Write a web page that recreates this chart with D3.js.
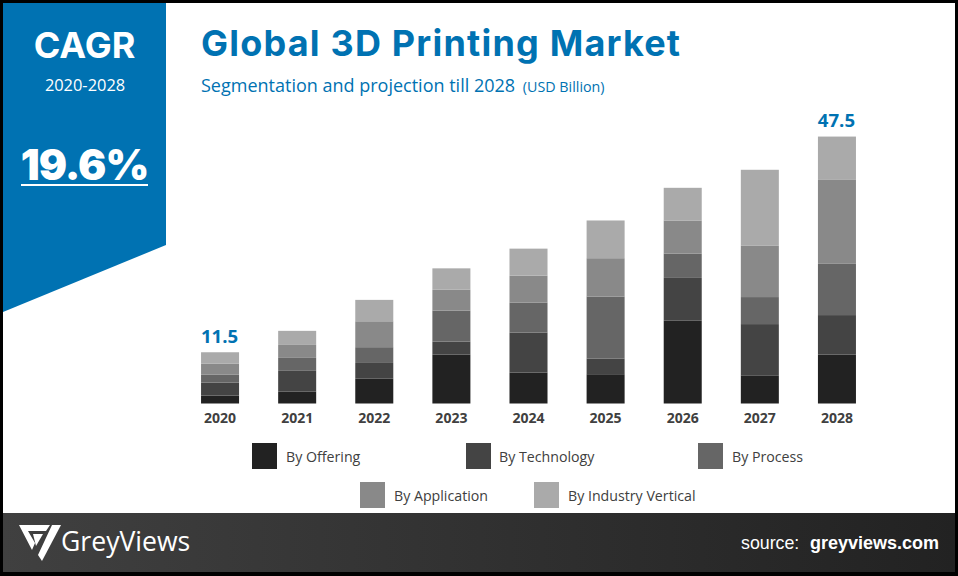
<!DOCTYPE html>
<html>
<head>
<meta charset="utf-8">
<script src="https://cdn.jsdelivr.net/npm/d3@7/dist/d3.min.js"></script>
<style>
html, body { margin: 0; padding: 0; background: #fff; }
svg { display: block; }
text { font-family: "Open Sans", sans-serif; }
</style>
</head>
<body>
<script>
const years = ["2020", "2021", "2022", "2023", "2024", "2025", "2026", "2027", "2028"];
const seriesNames = ["By Offering", "By Technology", "By Process", "By Application", "By Industry Vertical"];
const seriesColors = ["#222222", "#444444", "#666666", "#898989", "#aaaaaa"];

const byOffering = [1.4, 2.1, 4.4, 8.7, 5.5, 5.2, 14.7, 5.0, 8.7];
const byTechnology = [2.3, 3.7, 2.8, 2.3, 7.1, 2.8, 7.6, 9.1, 7.0];
const byProcess = [1.4, 2.3, 2.8, 5.5, 5.3, 11.0, 4.3, 4.8, 9.1];
const byApplication = [2.0, 2.3, 4.6, 3.7, 4.8, 6.8, 5.9, 9.1, 14.9];
const byIndustry = [2.0, 2.5, 3.8, 3.8, 4.8, 6.7, 5.8, 13.5, 7.7];

const totalLabels = { "2020": "11.5", "2028": "47.5" };

const WIDTH = 958;
const HEIGHT = 576;
const BLUE = "#0072b2";

var allSeries = [byOffering, byTechnology, byProcess, byApplication, byIndustry];
var records = years.map(function (year, i) {
    var record = { year: year };
    seriesNames.forEach(function (name, s) {
        record[name] = allSeries[s][i];
    });
    return record;
});

var svg = d3.select("body").append("svg")
    .attr("width", WIDTH)
    .attr("height", HEIGHT);

var defs = svg.append("defs");
var footerGrad = defs.append("linearGradient").attr("id", "footerGrad");
footerGrad.append("stop").attr("offset", "0%").attr("stop-color", "#404040");
footerGrad.append("stop").attr("offset", "100%").attr("stop-color", "#222222");

// frame and footer
svg.append("rect").attr("width", WIDTH).attr("height", HEIGHT).attr("fill", "#000");
svg.append("rect").attr("x", 3).attr("y", 3).attr("width", 952).attr("height", 510).attr("fill", "#fff");
svg.append("rect").attr("x", 3).attr("y", 513).attr("width", 952).attr("height", 59).attr("fill", "url(#footerGrad)");

// CAGR panel
svg.append("polygon")
    .attr("points", "3,3 166,3 166,245 3,312")
    .attr("fill", BLUE);

svg.append("text").attr("x", 84.5).attr("y", 58).attr("text-anchor", "middle")
    .attr("font-size", 36).attr("font-weight", 700).attr("fill", "#fff")
    .style("font-family", "Inter").text("CAGR");
svg.append("text").attr("x", 85).attr("y", 91).attr("text-anchor", "middle")
    .attr("font-size", 16.4).attr("fill", "#fff").text("2020-2028");
svg.append("text").attr("x", 84.5).attr("y", 180).attr("text-anchor", "middle")
    .attr("font-size", 42).attr("font-weight", 900).attr("fill", "#fff")
    .style("font-family", "Inter").attr("letter-spacing", -1).text("19.6%");
svg.append("rect").attr("x", 21).attr("y", 184).attr("width", 127).attr("height", 2).attr("fill", "#fff");

// headings
svg.append("text").attr("x", 201).attr("y", 56)
    .attr("font-size", 36).attr("font-weight", 700).attr("fill", BLUE)
    .style("font-family", "Inter").attr("letter-spacing", 1.2).text("Global 3D Printing Market");
var sub = svg.append("text").attr("x", 201).attr("y", 92).attr("fill", BLUE).attr("font-size", 18);
sub.append("tspan").text("Segmentation and projection till 2028 ");
sub.append("tspan").attr("font-size", 14.3).attr("dx", 3).text("(USD Billion)");

// bars
var x = d3.scaleBand()
    .domain(years)
    .range([181.5, 875.5])
    .paddingInner(0.507)
    .paddingOuter(0.2535);

var y = d3.scaleLinear()
    .domain([0, 47.5])
    .range([403.5, 136]);

var color = d3.scaleOrdinal().domain(seriesNames).range(seriesColors);
var stacked = d3.stack().keys(seriesNames)(records);

svg.selectAll("g.layer")
    .data(stacked)
    .enter().append("g")
    .attr("class", "layer")
    .attr("fill", function (d) { return color(d.key); })
    .selectAll("rect")
    .data(function (d) { return d; })
    .enter().append("rect")
    .attr("x", function (d) { return x(d.data.year); })
    .attr("y", function (d) { return y(d[1]); })
    .attr("width", x.bandwidth())
    .attr("height", function (d) { return y(d[0]) - y(d[1]); });

// year labels, no axis line in the original
var xAxis = svg.append("g")
    .attr("transform", "translate(0,403.5)")
    .call(d3.axisBottom(x).tickSize(0).tickPadding(10));
xAxis.select(".domain").remove();
xAxis.selectAll("text")
    .attr("font-size", 14).attr("font-weight", 700).attr("fill", "#404040")
    .style("font-family", "Open Sans");

// totals on first and last bars
var topLayer = stacked[stacked.length - 1];
svg.selectAll("text.total")
    .data(topLayer.filter(function (d) { return totalLabels[d.data.year]; }))
    .enter().append("text")
    .attr("class", "total")
    .attr("x", function (d) { return x(d.data.year) + x.bandwidth() / 2 - 0.5; })
    .attr("y", function (d) { return y(d[1]) - 9.5; })
    .attr("text-anchor", "middle")
    .attr("font-size", 18.6).attr("font-weight", 700).attr("fill", BLUE)
    .text(function (d) { return totalLabels[d.data.year]; });

// legend
var legendSpots = [[252, 443], [466, 443], [698, 443], [360, 482], [534, 482]];
var legend = svg.selectAll("g.legend")
    .data(seriesNames)
    .enter().append("g")
    .attr("class", "legend")
    .attr("transform", function (d, i) { return "translate(" + legendSpots[i][0] + "," + legendSpots[i][1] + ")"; });
legend.append("rect")
    .attr("width", 25).attr("height", 26)
    .attr("fill", function (d) { return color(d); });
legend.append("text")
    .attr("x", function (d, i) { return i == 1 ? 33 : 34; })
    .attr("y", 19)
    .attr("font-size", 14.2).attr("fill", "#404040")
    .text(function (d) { return d; });

// logo
var logo = svg.append("g").attr("fill", "#fff");
logo.append("polygon").attr("points", "19,525 50,525 46,531 28,531 35,543 32,550");
logo.append("polygon").attr("points", "33,534 43,534 36,546");
logo.append("polygon").attr("points", "52,525 61,525 42,561 38,555");
svg.append("text").attr("x", 61).attr("y", 551)
    .attr("font-size", 26.6).attr("fill", "#fff").text("GreyViews");

// source
svg.append("text").attr("x", 741).attr("y", 549)
    .attr("font-size", 17.8).attr("fill", "#fff")
    .style("font-family", "Liberation Sans").text("source:");
svg.append("text").attr("x", 810).attr("y", 549)
    .attr("font-size", 18).attr("font-weight", 700).attr("fill", "#fff")
    .style("font-family", "Liberation Sans").text("greyviews.com");
</script>
</body>
</html>
